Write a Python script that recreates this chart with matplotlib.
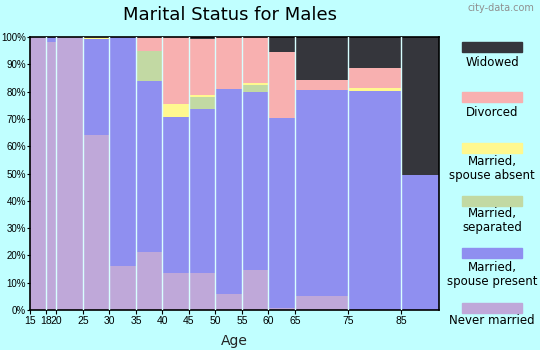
import numpy as np
import matplotlib
matplotlib.use("Agg")
import matplotlib.pyplot as plt
from matplotlib.patches import Rectangle

# age bins (left edges) and the last right edge
edges = [15, 18, 20, 25, 30, 35, 40, 45, 50, 55, 60, 65, 75, 85]
right_end = 92.2
tick_ages = [15, 18, 20, 25, 30, 35, 40, 45, 50, 55, 60, 65, 75, 85]

# percent of males in each status, per bin
never_married  = [100, 98.3, 100, 64.2, 16.1, 21.4, 13.6, 13.6, 5.9, 14.7, 0.9, 5.1, 0, 0]
spouse_present = [0, 1.7, 0, 35.2, 83.9, 62.6, 57.2, 60.1, 75.1, 65.3, 69.5, 75.6, 80.3, 49.5]
separated      = [0, 0, 0, 0, 0, 11.0, 0, 4.2, 0, 2.6, 0, 0, 0, 0]
spouse_absent  = [0, 0, 0, 0.6, 0, 0, 4.7, 0.7, 0, 0.4, 0, 0, 1.1, 0]
divorced       = [0, 0, 0, 0, 0, 5.0, 24.5, 20.8, 19.0, 17.0, 24.2, 3.7, 7.4, 0]
widowed        = [0, 0, 0, 0, 0, 0, 0, 0.6, 0, 0, 5.4, 15.6, 11.2, 50.5]

series = [
    ("Never married", never_married, "#bfa8d9"),
    ("Married,\nspouse present", spouse_present, "#8f8ff0"),
    ("Married,\nseparated", separated, "#c2d9a3"),
    ("Married,\nspouse absent", spouse_absent, "#fff88f"),
    ("Divorced", divorced, "#f8b0b0"),
    ("Widowed", widowed, "#35363c"),
]

bg = "#c0ffff"
W, H = 540, 350
fig = plt.figure(figsize=(W / 100, H / 100), dpi=100, facecolor=bg)
ax = fig.add_axes([30 / W, 1 - 310 / H, (439 - 30) / W, (310 - 37) / H])
ax.set_facecolor(bg)

lefts = np.array(edges, dtype=float)
widths = np.diff(np.append(lefts, right_end))
bottom = np.zeros(len(lefts))
for name, vals, col in series:
    v = np.array(vals, dtype=float)
    ax.bar(lefts, v, width=widths, bottom=bottom, align="edge", color=col,
           edgecolor="none", linewidth=0)
    bottom += v

for e in edges[1:]:
    ax.axvline(e, color="#d8ffff", lw=1.0, zorder=3)

ax.set_xlim(15, right_end)
ax.set_ylim(0, 100)
ax.set_xticks(tick_ages)
ax.set_xticklabels([str(t) for t in tick_ages])
ax.set_yticks(np.arange(0, 101, 10))
ax.set_yticklabels(["%d%%" % t for t in range(0, 101, 10)])
ax.tick_params(axis="x", labelsize=7.5, length=3, width=0.8, pad=1, colors="black")
ax.tick_params(axis="y", labelsize=7, length=2.5, width=0.8, pad=0.5, colors="black")
for lab in ax.get_xticklabels() + ax.get_yticklabels():
    lab.set_family("Liberation Sans")
for s in ax.spines.values():
    s.set_color("black")
    s.set_linewidth(1.2)
ax.set_xlabel("Age", fontsize=10, color="#222222", labelpad=6)

fig.text(230 / W, 1 - 15 / H, "Marital Status for Males", ha="center", va="center",
         fontsize=13, color="black")
fig.text(1 - 6 / W, 1 - 8 / H, "city-data.com", ha="right", va="center",
         fontsize=7, color="#909090")

# legend on the right, drawn top to bottom
leg = [
    ("Widowed", "#35363c", 42, 62),
    ("Divorced", "#f8b0b0", 92, 112),
    ("Married,\nspouse absent", "#fff88f", 143, 162),
    ("Married,\nseparated", "#c2d9a3", 196, 213),
    ("Married,\nspouse present", "#8f8ff0", 248, 267),
    ("Never married", "#bfa8d9", 303, 321),
]
for label, col, ry, ty in leg:
    fig.patches.append(Rectangle((462 / W, 1 - (ry + 10) / H), 60 / W, 10 / H,
                                 transform=fig.transFigure, color=col))
    for i, ln in enumerate(label.split("\n")):
        fig.text(492 / W, 1 - (ty + 14 * i) / H, ln, ha="center", va="center",
                 fontsize=8.5, color="black")

fig.savefig("out.png", dpi=100, facecolor=bg)
